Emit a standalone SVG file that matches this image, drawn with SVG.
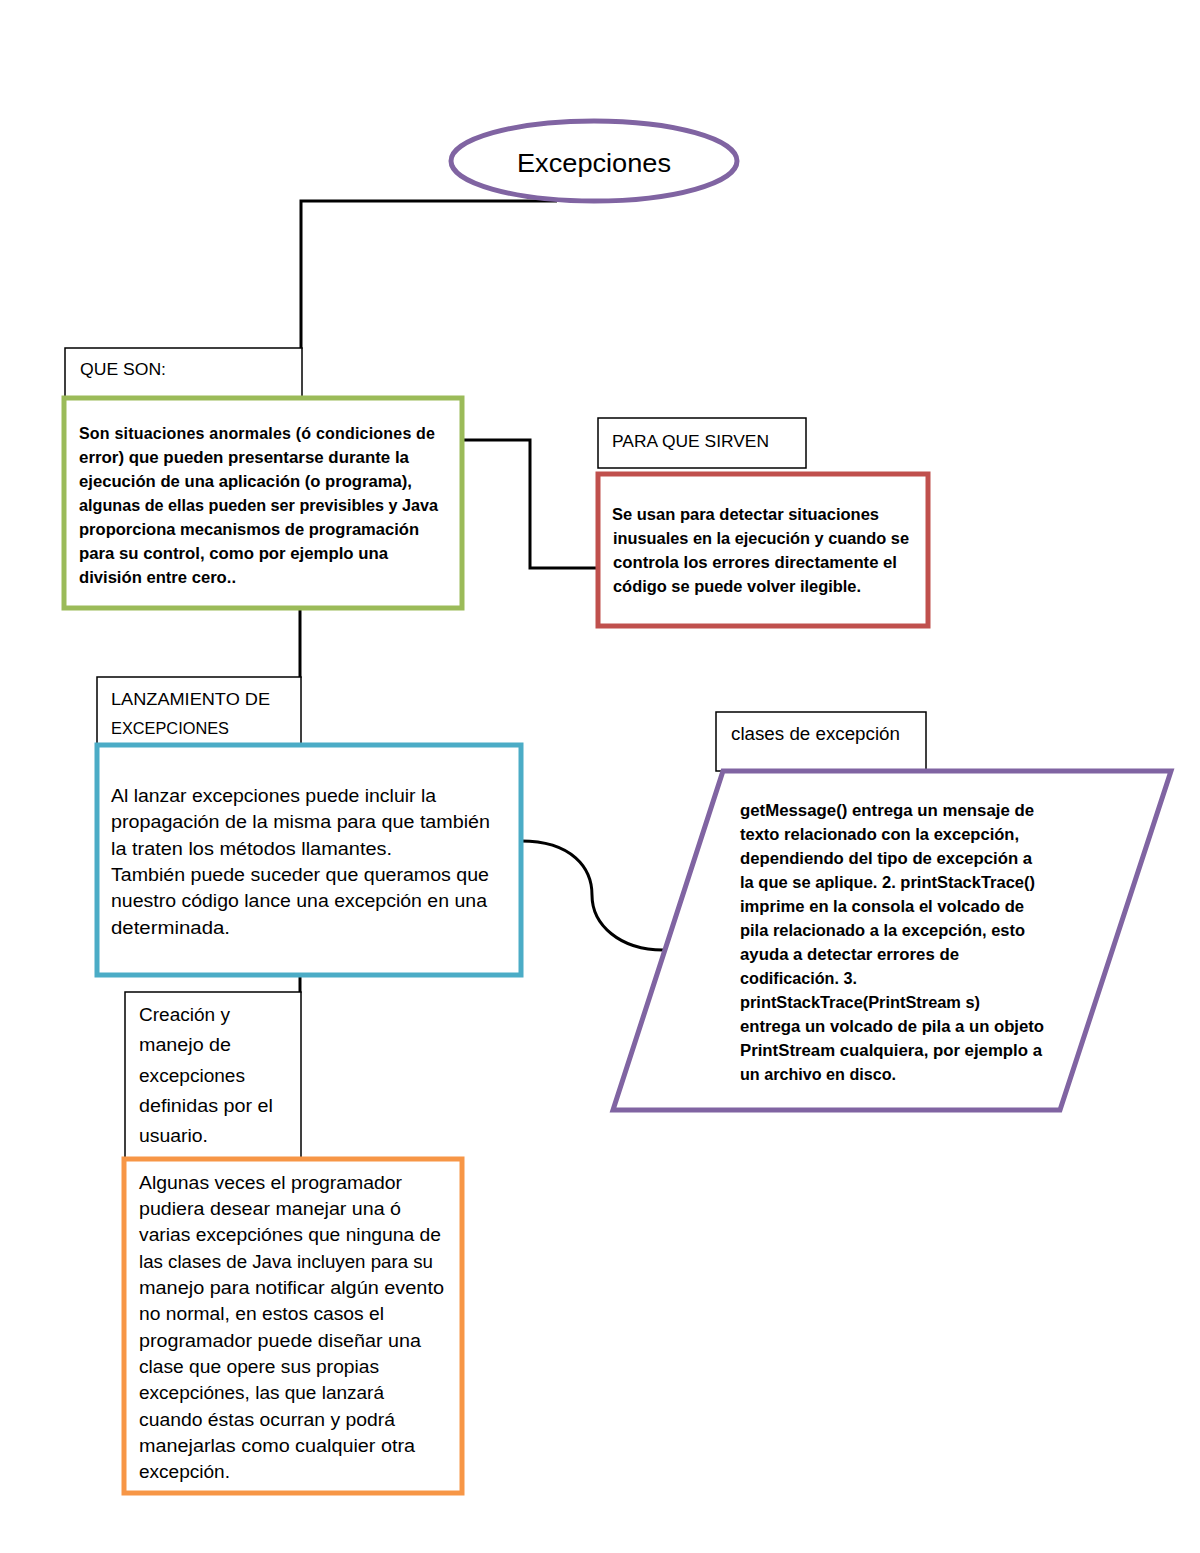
<svg xmlns="http://www.w3.org/2000/svg" width="1200" height="1553" viewBox="0 0 1200 1553">
<style>
.bg{fill:#ffffff}
.lbl{fill:#ffffff;stroke:#000000;stroke-width:1.5}
.con{fill:none;stroke:#000000;stroke-width:3}
.t{font-family:"Liberation Sans",Arial,sans-serif;fill:#000000}
.h{font-size:16px}
.b{font-size:16px;font-weight:bold}
.r{font-size:17.5px}
</style>
<rect class="bg" x="0" y="0" width="1200" height="1553"/>
<g id="connectors">
<polyline class="con" points="557,201 301,201 301,349"/>
<polyline class="con" points="462,440 530,440 530,568 598,568"/>
<line class="con" x1="300" y1="608" x2="300" y2="678"/>
<path class="con" d="M521,841 C572,841 592,868 592,895 C592,925 620,950 663,950"/>
<line class="con" x1="300" y1="975" x2="300" y2="993"/>
</g>
<g id="excepciones">
<ellipse cx="594" cy="161" rx="143" ry="40" fill="#ffffff" stroke="#8064A2" stroke-width="5"/>
<text class="t" x="594" y="172" font-size="26" text-anchor="middle" textLength="154" lengthAdjust="spacingAndGlyphs">Excepciones</text>
</g>
<g id="que-son">
<rect class="lbl" x="65" y="348" width="237" height="50"/>
<text class="t h" x="80" y="375" textLength="86" lengthAdjust="spacingAndGlyphs">QUE SON:</text>
</g>
<g id="que-son-desc">
<rect x="64" y="398" width="398" height="210" fill="#ffffff" stroke="#9BBB59" stroke-width="5"/>
<text class="t b" lengthAdjust="spacingAndGlyphs">
<tspan x="79" y="439" textLength="356">Son situaciones anormales (ó condiciones de</tspan>
</text>
<text class="t b" x="79" y="463" textLength="330" lengthAdjust="spacingAndGlyphs">error) que pueden presentarse durante la</text>
<text class="t b" x="79" y="487" textLength="333" lengthAdjust="spacingAndGlyphs">ejecución de una aplicación (o programa),</text>
<text class="t b" x="79" y="511" textLength="359" lengthAdjust="spacingAndGlyphs">algunas de ellas pueden ser previsibles y Java</text>
<text class="t b" x="79" y="535" textLength="340" lengthAdjust="spacingAndGlyphs">proporciona mecanismos de programación</text>
<text class="t b" x="79" y="559" textLength="309" lengthAdjust="spacingAndGlyphs">para su control, como por ejemplo una</text>
<text class="t b" x="79" y="583" textLength="157" lengthAdjust="spacingAndGlyphs">división entre cero..</text>
</g>
<g id="para-que-sirven">
<rect class="lbl" x="598" y="418" width="208" height="50"/>
<text class="t h" x="612" y="447" textLength="157" lengthAdjust="spacingAndGlyphs">PARA QUE SIRVEN</text>
</g>
<g id="para-que-sirven-desc">
<rect x="598" y="474" width="330" height="152" fill="#ffffff" stroke="#C0504D" stroke-width="5"/>
<text class="t b" x="612" y="520" textLength="267" lengthAdjust="spacingAndGlyphs">Se usan para detectar situaciones</text>
<text class="t b" x="613" y="544" textLength="296" lengthAdjust="spacingAndGlyphs">inusuales en la ejecución y cuando se</text>
<text class="t b" x="613" y="568" textLength="284" lengthAdjust="spacingAndGlyphs">controla los errores directamente el</text>
<text class="t b" x="613" y="592" textLength="248" lengthAdjust="spacingAndGlyphs">código se puede volver ilegible.</text>
</g>
<g id="lanzamiento">
<rect class="lbl" x="97" y="677" width="204" height="68"/>
<text class="t h" x="111" y="705" textLength="159" lengthAdjust="spacingAndGlyphs">LANZAMIENTO DE</text>
<text class="t h" x="111" y="734" textLength="118" lengthAdjust="spacingAndGlyphs">EXCEPCIONES</text>
</g>
<g id="lanzamiento-desc">
<rect x="97" y="745" width="424" height="230" fill="#ffffff" stroke="#4BACC6" stroke-width="5"/>
<text class="t r" x="111" y="802" textLength="325" lengthAdjust="spacingAndGlyphs">Al lanzar excepciones puede incluir la</text>
<text class="t r" x="111" y="828" textLength="379" lengthAdjust="spacingAndGlyphs">propagación de la misma para que también</text>
<text class="t r" x="111" y="855" textLength="281" lengthAdjust="spacingAndGlyphs">la traten los métodos llamantes.</text>
<text class="t r" x="111" y="881" textLength="378" lengthAdjust="spacingAndGlyphs">También puede suceder que queramos que</text>
<text class="t r" x="111" y="907" textLength="376" lengthAdjust="spacingAndGlyphs">nuestro código lance una excepción en una</text>
<text class="t r" x="111" y="934" textLength="119" lengthAdjust="spacingAndGlyphs">determinada.</text>
</g>
<g id="clases">
<rect class="lbl" x="716" y="712" width="210" height="59"/>
<text class="t r" x="731" y="740" textLength="169" lengthAdjust="spacingAndGlyphs">clases de excepción</text>
</g>
<g id="clases-desc">
<polygon points="723,771 1171,771 1060,1110 613,1110" fill="#ffffff" stroke="#8064A2" stroke-width="5"/>
<text class="t b" x="740" y="816" textLength="294" lengthAdjust="spacingAndGlyphs">getMessage() entrega un mensaje de</text>
<text class="t b" x="740" y="840" textLength="279" lengthAdjust="spacingAndGlyphs">texto relacionado con la excepción,</text>
<text class="t b" x="740" y="864" textLength="292" lengthAdjust="spacingAndGlyphs">dependiendo del tipo de excepción a</text>
<text class="t b" x="740" y="888" textLength="295" lengthAdjust="spacingAndGlyphs">la que se aplique. 2. printStackTrace()</text>
<text class="t b" x="740" y="912" textLength="284" lengthAdjust="spacingAndGlyphs">imprime en la consola el volcado de</text>
<text class="t b" x="740" y="936" textLength="285" lengthAdjust="spacingAndGlyphs">pila relacionado a la excepción, esto</text>
<text class="t b" x="740" y="960" textLength="219" lengthAdjust="spacingAndGlyphs">ayuda a detectar errores de</text>
<text class="t b" x="740" y="984" textLength="117" lengthAdjust="spacingAndGlyphs">codificación. 3.</text>
<text class="t b" x="740" y="1008" textLength="240" lengthAdjust="spacingAndGlyphs">printStackTrace(PrintStream s)</text>
<text class="t b" x="740" y="1032" textLength="304" lengthAdjust="spacingAndGlyphs">entrega un volcado de pila a un objeto</text>
<text class="t b" x="740" y="1056" textLength="302" lengthAdjust="spacingAndGlyphs">PrintStream cualquiera, por ejemplo a</text>
<text class="t b" x="740" y="1080" textLength="156" lengthAdjust="spacingAndGlyphs">un archivo en disco.</text>
</g>
<g id="creacion">
<rect class="lbl" x="125" y="992" width="176" height="166"/>
<text class="t r" x="139" y="1021" textLength="91" lengthAdjust="spacingAndGlyphs">Creación y</text>
<text class="t r" x="139" y="1051" textLength="92" lengthAdjust="spacingAndGlyphs">manejo de</text>
<text class="t r" x="139" y="1082" textLength="106" lengthAdjust="spacingAndGlyphs">excepciones</text>
<text class="t r" x="139" y="1112" textLength="134" lengthAdjust="spacingAndGlyphs">definidas por el</text>
<text class="t r" x="139" y="1142" textLength="69" lengthAdjust="spacingAndGlyphs">usuario.</text>
</g>
<g id="creacion-desc">
<rect x="124" y="1159" width="338" height="334" fill="#ffffff" stroke="#F79646" stroke-width="5"/>
<text class="t r" x="139" y="1189" textLength="263" lengthAdjust="spacingAndGlyphs">Algunas veces el programador</text>
<text class="t r" x="139" y="1215" textLength="262" lengthAdjust="spacingAndGlyphs">pudiera desear manejar una ó</text>
<text class="t r" x="139" y="1241" textLength="302" lengthAdjust="spacingAndGlyphs">varias excepciónes que ninguna de</text>
<text class="t r" x="139" y="1268" textLength="294" lengthAdjust="spacingAndGlyphs">las clases de Java incluyen para su</text>
<text class="t r" x="139" y="1294" textLength="305" lengthAdjust="spacingAndGlyphs">manejo para notificar algún evento</text>
<text class="t r" x="139" y="1320" textLength="245" lengthAdjust="spacingAndGlyphs">no normal, en estos casos el</text>
<text class="t r" x="139" y="1347" textLength="282" lengthAdjust="spacingAndGlyphs">programador puede diseñar una</text>
<text class="t r" x="139" y="1373" textLength="240" lengthAdjust="spacingAndGlyphs">clase que opere sus propias</text>
<text class="t r" x="139" y="1399" textLength="245" lengthAdjust="spacingAndGlyphs">excepciónes, las que lanzará</text>
<text class="t r" x="139" y="1426" textLength="256" lengthAdjust="spacingAndGlyphs">cuando éstas ocurran y podrá</text>
<text class="t r" x="139" y="1452" textLength="276" lengthAdjust="spacingAndGlyphs">manejarlas como cualquier otra</text>
<text class="t r" x="139" y="1478" textLength="91" lengthAdjust="spacingAndGlyphs">excepción.</text>
</g>
</svg>
